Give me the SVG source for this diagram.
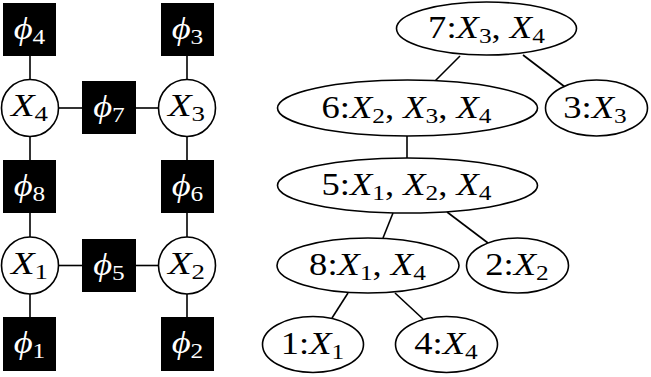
<svg xmlns="http://www.w3.org/2000/svg" width="651" height="377" viewBox="0 0 651 377">
<style>
.t{font-family:"Liberation Serif","Times New Roman",serif;font-size:31px;fill:#000;text-anchor:middle}
.i{font-style:italic}
.s{font-size:21.5px;font-style:normal}
.w{fill:#fff}
.f{fill:#000;stroke:none}
.c{fill:#fff;stroke:#000;stroke-width:1.6}
.e{stroke:#000;stroke-width:1.6;fill:none}
</style>
<g id="connectors" class="e">
<line x1="30" y1="56" x2="30" y2="79"/>
<line x1="59" y1="108" x2="82" y2="108"/>
<line x1="136" y1="108" x2="158" y2="108"/>
<line x1="187" y1="56" x2="187" y2="79"/>
<line x1="30" y1="137" x2="30" y2="160"/>
<line x1="187" y1="137" x2="187" y2="160"/>
<line x1="30" y1="213" x2="30" y2="237"/>
<line x1="187" y1="213" x2="187" y2="237"/>
<line x1="59" y1="265.5" x2="82" y2="265.5"/>
<line x1="136" y1="265.5" x2="158" y2="265.5"/>
<line x1="30" y1="294" x2="30" y2="317"/>
<line x1="187" y1="294" x2="187" y2="317"/>
<line x1="460" y1="56" x2="435" y2="81"/>
<line x1="523" y1="55" x2="565" y2="87"/>
<line x1="407" y1="136" x2="407" y2="158"/>
<line x1="393" y1="213" x2="383" y2="238"/>
<line x1="447" y1="212" x2="488" y2="243"/>
<line x1="348" y1="293" x2="332" y2="318"/>
<line x1="395" y1="293" x2="423" y2="319"/>
</g>
<g id="phi4"><rect class="f" x="3" y="3" width="53" height="53"/><text class="t w" transform="translate(29.5 39) scale(1.18 1)"><tspan class="i">ϕ</tspan><tspan class="s" dy="5">4</tspan></text></g>
<g id="phi3"><rect class="f" x="161" y="3" width="53" height="53"/><text class="t w" transform="translate(187.5 39) scale(1.18 1)"><tspan class="i">ϕ</tspan><tspan class="s" dy="5">3</tspan></text></g>
<g id="X4"><circle class="c" cx="30" cy="108" r="28.5"/><text class="t" transform="translate(29.5 116) scale(1.25 1)"><tspan class="i">X</tspan><tspan class="s" dy="5">4</tspan></text></g>
<g id="phi7"><rect class="f" x="82" y="81" width="54" height="53"/><text class="t w" transform="translate(109 117) scale(1.18 1)"><tspan class="i">ϕ</tspan><tspan class="s" dy="5">7</tspan></text></g>
<g id="X3"><circle class="c" cx="187" cy="108" r="28.5"/><text class="t" transform="translate(186.5 116) scale(1.25 1)"><tspan class="i">X</tspan><tspan class="s" dy="5">3</tspan></text></g>
<g id="phi8"><rect class="f" x="3" y="160" width="53" height="53"/><text class="t w" transform="translate(29.5 196) scale(1.18 1)"><tspan class="i">ϕ</tspan><tspan class="s" dy="5">8</tspan></text></g>
<g id="phi6"><rect class="f" x="161" y="160" width="53" height="53"/><text class="t w" transform="translate(187.5 196) scale(1.18 1)"><tspan class="i">ϕ</tspan><tspan class="s" dy="5">6</tspan></text></g>
<g id="X1"><circle class="c" cx="30" cy="265.5" r="28.5"/><text class="t" transform="translate(29.5 274) scale(1.25 1)"><tspan class="i">X</tspan><tspan class="s" dy="5">1</tspan></text></g>
<g id="phi5"><rect class="f" x="82" y="239" width="54" height="53"/><text class="t w" transform="translate(109 275) scale(1.18 1)"><tspan class="i">ϕ</tspan><tspan class="s" dy="5">5</tspan></text></g>
<g id="X2"><circle class="c" cx="187" cy="265.5" r="28.5"/><text class="t" transform="translate(186.5 274) scale(1.25 1)"><tspan class="i">X</tspan><tspan class="s" dy="5">2</tspan></text></g>
<g id="phi1"><rect class="f" x="3" y="317" width="53" height="54"/><text class="t w" transform="translate(29.5 353) scale(1.18 1)"><tspan class="i">ϕ</tspan><tspan class="s" dy="5">1</tspan></text></g>
<g id="phi2"><rect class="f" x="161" y="317" width="53" height="54"/><text class="t w" transform="translate(187.5 353) scale(1.18 1)"><tspan class="i">ϕ</tspan><tspan class="s" dy="5">2</tspan></text></g>
<g id="c7"><ellipse class="c" cx="486.5" cy="28.5" rx="90" ry="26.5"/><text class="t" transform="translate(486.5 37.5) scale(1.18 1)">7:<tspan class="i">X</tspan><tspan class="s" dy="5">3</tspan><tspan dy="-5">, </tspan><tspan class="i">X</tspan><tspan class="s" dy="5">4</tspan></text></g>
<g id="c6"><ellipse class="c" cx="407.5" cy="108" rx="130" ry="28"/><text class="t" transform="translate(406.5 117.5) scale(1.18 1)">6:<tspan class="i">X</tspan><tspan class="s" dy="5">2</tspan><tspan dy="-5">, </tspan><tspan class="i">X</tspan><tspan class="s" dy="5">3</tspan><tspan dy="-5">, </tspan><tspan class="i">X</tspan><tspan class="s" dy="5">4</tspan></text></g>
<g id="c3"><ellipse class="c" cx="596.5" cy="108" rx="51" ry="28"/><text class="t" transform="translate(595 117.5) scale(1.18 1)">3:<tspan class="i">X</tspan><tspan class="s" dy="5">3</tspan></text></g>
<g id="c5"><ellipse class="c" cx="407.5" cy="185.5" rx="130" ry="27.5"/><text class="t" transform="translate(406.5 194.5) scale(1.18 1)">5:<tspan class="i">X</tspan><tspan class="s" dy="5">1</tspan><tspan dy="-5">, </tspan><tspan class="i">X</tspan><tspan class="s" dy="5">2</tspan><tspan dy="-5">, </tspan><tspan class="i">X</tspan><tspan class="s" dy="5">4</tspan></text></g>
<g id="c8"><ellipse class="c" cx="368" cy="265.5" rx="91" ry="27.5"/><text class="t" transform="translate(367.5 274.5) scale(1.18 1)">8:<tspan class="i">X</tspan><tspan class="s" dy="5">1</tspan><tspan dy="-5">, </tspan><tspan class="i">X</tspan><tspan class="s" dy="5">4</tspan></text></g>
<g id="c2"><ellipse class="c" cx="517.5" cy="265.5" rx="51" ry="27.5"/><text class="t" transform="translate(517 274.5) scale(1.18 1)">2:<tspan class="i">X</tspan><tspan class="s" dy="5">2</tspan></text></g>
<g id="c1"><ellipse class="c" cx="313" cy="344.5" rx="50.5" ry="28"/><text class="t" transform="translate(312.5 353.5) scale(1.18 1)">1:<tspan class="i">X</tspan><tspan class="s" dy="5">1</tspan></text></g>
<g id="c4"><ellipse class="c" cx="446.5" cy="344.5" rx="51" ry="28"/><text class="t" transform="translate(446 353.5) scale(1.18 1)">4:<tspan class="i">X</tspan><tspan class="s" dy="5">4</tspan></text></g>
</svg>
